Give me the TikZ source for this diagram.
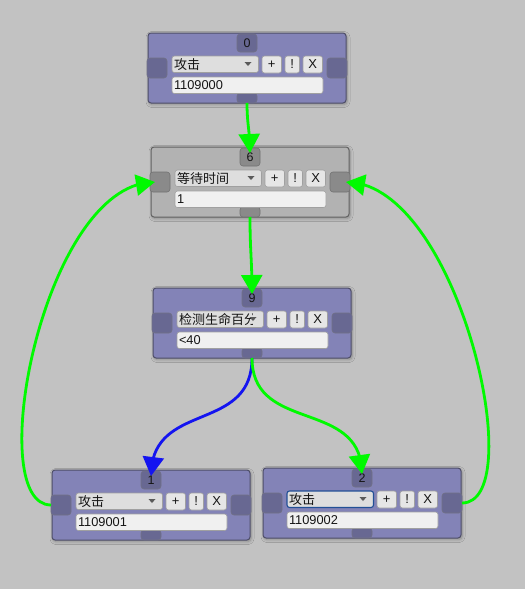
\documentclass[tikz,border=0pt]{standalone}
\usepackage{fontspec}
\setmainfont{Liberation Sans}
\newfontfamily\zhfont{Noto Sans CJK SC}
\usetikzlibrary{arrows.meta,bending,shadows.blur}
\definecolor{bg}{RGB}{194,194,194}
\definecolor{pfill}{RGB}{131,131,183}
\definecolor{pport}{RGB}{104,104,146}
\definecolor{pborder}{RGB}{78,78,104}
\definecolor{gfill}{RGB}{178,178,178}
\definecolor{gport}{RGB}{138,138,138}
\definecolor{gborder}{RGB}{98,98,98}
\definecolor{ddfill}{RGB}{222,222,222}
\definecolor{ddborder}{RGB}{160,160,160}
\definecolor{btnfill}{RGB}{230,230,230}
\definecolor{fieldfill}{RGB}{240,240,240}
\definecolor{focus}{RGB}{35,80,150}
\definecolor{ddarrow}{RGB}{90,90,90}
\definecolor{txt}{RGB}{20,20,20}
\definecolor{lnkgreen}{RGB}{0,250,0}
\definecolor{lnkblue}{RGB}{20,20,240}
\tikzset{
  x=1pt, y=-1pt,
  every node/.style={inner sep=0pt, outer sep=0pt, text=txt},
  pur box/.style={draw=pborder, fill=pfill, rounded corners=3pt, line width=1pt,
    minimum width=198pt, minimum height=70pt, anchor=north west,
    blur shadow={shadow xshift=1pt, shadow yshift=-1.5pt, shadow blur radius=3pt, shadow blur steps=6, shadow opacity=30}},
  gry box/.style={pur box, draw=gborder, fill=gfill},
  pur port/.style={draw=pborder!80, fill=pport, rounded corners=3pt, line width=0.6pt, anchor=north west},
  gry port/.style={draw=gborder!90, fill=gport, rounded corners=3pt, line width=0.6pt, anchor=north west},
  dd/.style={draw=ddborder, fill=ddfill, rounded corners=2.5pt, line width=0.6pt, anchor=north west},
  ddfocus/.style={dd, draw=focus, line width=1.1pt},
  btn/.style={draw=ddborder, fill=btnfill, rounded corners=2.5pt, line width=0.6pt, anchor=north west, font=\fontsize{13}{15}\selectfont},
  field/.style={draw=ddborder, fill=fieldfill, rounded corners=2.5pt, line width=0.6pt, anchor=north west},
  lab/.style={font=\fontsize{12.5}{14}\selectfont},
  zh/.style={font=\zhfont\fontsize{13}{15}\selectfont},
  num/.style={font=\fontsize{12.8}{14}\selectfont},
  link/.style={draw=#1, line width=2.8pt, -{Triangle[width=21pt,length=19pt]}}
}
\newcommand\flownode[8]{%
  \begin{scope}[shift={(#2,#3)}]
    \node[#4 box] (#1) at (0,0) {};
    \node[#4 port, minimum width=20pt, minimum height=18pt, lab] (#1-in) at (89,1) {#5};
    \node[#4 port, minimum width=20pt, minimum height=20pt] (#1-l) at (-1,25) {};
    \node[#4 port, minimum width=20pt, minimum height=20pt] (#1-r) at (179,25) {};
    \node[#4 port, minimum width=20pt, minimum height=10pt] (#1-out) at (89,60) {};
    \node[#8, minimum width=86.5pt, minimum height=16.5pt] (#1-dd) at (24,23) {};
    \begin{scope}
      \clip (25,23) rectangle (99,40);
      \node[zh, anchor=west] (#1-ddt) at (26,31.5) {#6};
    \end{scope}
    \fill[ddarrow] (96.5,29) -- (103.5,29) -- (100,33) -- cycle;
    \node[btn, minimum width=19.5pt, minimum height=17pt] (#1-plus) at (114,23) {+};
    \node[btn, minimum width=14.5pt, minimum height=17pt] (#1-bang) at (137,23) {!};
    \node[btn, minimum width=19.5pt, minimum height=17pt] (#1-x) at (155,23) {X};
    \node[field, minimum width=151pt, minimum height=16.5pt] (#1-f) at (24,44) {};
    \node[num, anchor=west] (#1-ft) at (26,52.5) {#7};
    \coordinate (#1-top) at (99,6);
    \coordinate (#1-lt) at (4,35);
    \coordinate (#1-rt) at (195,35);
  \end{scope}}
\begin{document}
\begin{tikzpicture}
\useasboundingbox (0,0) rectangle (525,589);
\fill[bg] (0,0) rectangle (525,589);
\flownode{n0}{148}{33}{pur}{0}{攻击}{1109000}{dd}
\flownode{n6}{151}{147}{gry}{6}{等待时间}{1}{dd}
\flownode{n9}{153}{288}{pur}{9}{检测生命百分}{<40}{dd}
\flownode{n1}{52}{470}{pur}{1}{攻击}{1109001}{dd}
\flownode{n2}{263}{468}{pur}{2}{攻击}{1109002}{ddfocus}
\draw[link=lnkgreen] (n0-out.south) .. controls +(0,22) and +(0,-22) .. (n6-top);
\draw[link=lnkgreen] (n6-out.south) .. controls +(0,35) and +(0,-35) .. (n9-top);
\draw[link=lnkblue] (n9-out.south) .. controls +(0,76) and +(0,-76) .. (n1-top);
\draw[link=lnkgreen] (n9-out.south) .. controls +(0,76) and +(0,-76) .. (n2-top);
\draw[link=lnkgreen] (n1-l.west) .. controls +(-69,0) and +(-112,0) .. (n6-lt);
\draw[link=lnkgreen] (n2-r.east) .. controls +(69,0) and +(112,0) .. (n6-rt);
\end{tikzpicture}
\end{document}
